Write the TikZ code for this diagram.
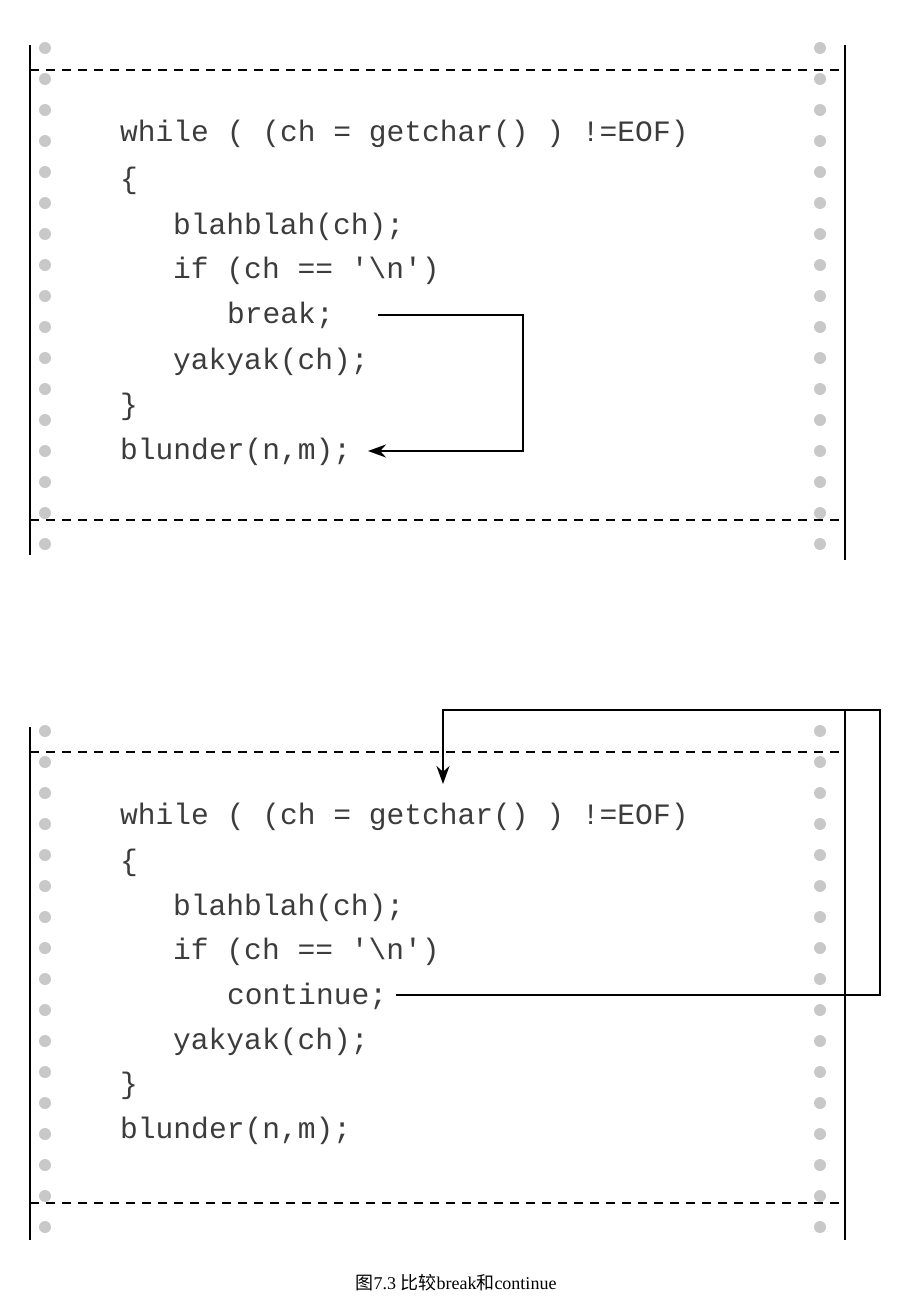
\documentclass[tikz,border=0pt]{standalone}
\usepackage{fontspec}
\setmainfont{Liberation Serif}
\setmonofont{Liberation Mono}
\newfontfamily\cjk{Noto Sans CJK SC}
\usetikzlibrary{arrows.meta}
\definecolor{dotgray}{RGB}{200,200,200}
\definecolor{codegray}{RGB}{60,60,60}
\tikzset{
  code/.style={anchor=base west,inner sep=0pt,font=\fontsize{29.6}{31}\selectfont\ttfamily,text=codegray},
  frame/.style={line width=2.4pt},
  dashline/.style={line width=2.4pt,dash pattern=on 9pt off 7pt},
  hole/.style={fill=dotgray,draw=none},
  flow/.style={line width=2.4pt,-{Stealth[length=18pt,width=13pt]}}
}
\begin{document}
\begin{tikzpicture}[x=1pt,y=-1pt]
\useasboundingbox (0,0) rectangle (912,1298);
% ---------- top panel
\draw[frame] (30,45) -- (30,555);
\draw[frame] (845,45) -- (845,560);
\draw[dashline] (30,70) -- (845,70);
\draw[dashline] (30,520) -- (845,520);
\foreach \i in {0,...,16}{
  \fill[hole] (45,48+31*\i) circle (6);
  \fill[hole] (820,48+31*\i) circle (6);
}
\node[code] (t1) at (120,141) {while ( (ch = getchar() ) !=EOF)};
\node[code] (t2) at (120,188) {\{};
\node[code] (t3) at (173,234) {blahblah(ch);};
\node[code] (t4) at (173,278) {if (ch == '\textbackslash n')};
\node[code] (t5) at (227,323) {break;};
\node[code] (t6) at (173,369) {yakyak(ch);};
\node[code] (t7) at (120,414) {\}};
\node[code] (t8) at (120,459) {blunder(n,m);};
\coordinate (tb) at (378,315);
\coordinate (tbl) at (368,451);
\draw[flow] (tb) -- (523,315) -- (523,451) -- (tbl);
% ---------- bottom panel
\draw[frame] (30,727) -- (30,1240);
\draw[frame] (845,710) -- (845,1240);
\draw[dashline] (30,752) -- (845,752);
\draw[dashline] (30,1203) -- (845,1203);
\foreach \i in {0,...,16}{
  \fill[hole] (45,731+31*\i) circle (6);
  \fill[hole] (820,731+31*\i) circle (6);
}
\node[code] (b1) at (120,824) {while ( (ch = getchar() ) !=EOF)};
\node[code] (b2) at (120,870) {\{};
\node[code] (b3) at (173,915) {blahblah(ch);};
\node[code] (b4) at (173,959) {if (ch == '\textbackslash n')};
\node[code] (b5) at (227,1004) {continue;};
\node[code] (b6) at (173,1049) {yakyak(ch);};
\node[code] (b7) at (120,1093) {\}};
\node[code] (b8) at (120,1138) {blunder(n,m);};
\coordinate (bc) at (396,995);
\coordinate (bw) at (443,784);
\draw[flow] (bc) -- (880,995) -- (880,710) -- (443,710) -- (bw);
% caption
\node[inner sep=0pt,font=\fontsize{18}{20}\selectfont] (cap) at (456,1283) {{\cjk 图}7.3 {\cjk 比较}break{\cjk 和}continue};
\end{tikzpicture}
\end{document}
